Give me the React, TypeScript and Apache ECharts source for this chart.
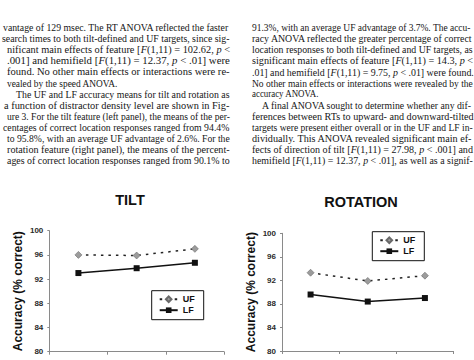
import React, { useEffect, useRef } from 'react';
import * as echarts from 'echarts';

// ---------- data ----------
const densityLevels = ['Low', 'Medium', 'High'];
const seriesNames = ['UF', 'LF'];
const tiltUF = [96.0, 95.9, 97.0];
const tiltLF = [93.0, 93.8, 94.7];
const rotationUF = [93.3, 91.9, 92.8];
const rotationLF = [89.6, 88.4, 89.0];
const panelTitles = ['TILT', 'ROTATION'];
const yAxisTitle = 'Accuracy (% correct)';
const yMin = 80;
const yMax = 100;
const yStep = 4;

// body text (italic segments marked with *)
const leftColumnText = [
  'vantage of 129 msec. The RT ANOVA reflected the faster',
  'search times to both tilt-defined and UF targets, since sig-',
  'nificant main effects of feature [*F*(1,11) = 102.62, *p* <',
  '.001] and hemifield [*F*(1,11) = 12.37, *p* < .01] were',
  'found. No other main effects or interactions were re-',
  'vealed by the speed ANOVA.',
  'The UF and LF accuracy means for tilt and rotation as',
  'a function of distractor density level are shown in Fig-',
  'ure 3. For the tilt feature (left panel), the means of the per-',
  'centages of correct location responses ranged from 94.4%',
  'to 95.8%, with an average UF advantage of 2.6%. For the',
  'rotation feature (right panel), the means of the percent-',
  'ages of correct location responses ranged from 90.1% to',
];
const rightColumnText = [
  '91.3%, with an average UF advantage of 3.7%. The accu-',
  'racy ANOVA reflected the greater percentage of correct',
  'location responses to both tilt-defined and UF targets, as',
  'significant main effects of feature [*F*(1,11) = 14.3, *p* <',
  '.01] and hemifield [*F*(1,11) = 9.75, *p* < .01] were found.',
  'No other main effects or interactions were revealed by the',
  'accuracy ANOVA.',
  'A final ANOVA sought to determine whether any dif-',
  'ferences between RTs to upward- and downward-tilted',
  'targets were present either overall or in the UF and LF in-',
  'dividually. This ANOVA revealed significant main ef-',
  'fects of direction of tilt [*F*(1,11) = 27.98, *p* < .001] and',
  'hemifield [*F*(1,11) = 12.37, *p* < .01], as well as a signif-',
];

// ---------- layout ----------
const leftStarts = [3, 2, 7, 7, 7, 7, 16, 4, 7, 3, 7, 7, 7];
const leftEnds = [230, 230, 230, 230, 230, 118, 230, 230, 230, 230, 230, 230, 230];
const rightStarts = [252, 252, 252, 252, 252, 252, 252, 262, 252, 252, 252, 252, 252];
const rightEnds = [471, 473, 473, 473, 474, 473, 319, 473, 474, 473, 473, 473, 473];
const LINE_TOP = 27.7;
const LINE_STEP = 11.1;
const BODY_FONT = "'Liberation Serif', 'Times New Roman', serif";
const BODY_SIZE = 10;
const SANS = "'Liberation Sans', Arial, sans-serif";

function segments(line: string) {
  return line
    .split('*')
    .map((t, i) => ({ t, it: i % 2 === 1 }))
    .filter((p) => p.t.length > 0);
}

function buildTextElements(lines: string[], starts: number[], ends: number[]) {
  const canvas = document.createElement('canvas');
  const ctx = canvas.getContext('2d') as CanvasRenderingContext2D;
  return lines.map((line, i) => {
    const segs = segments(line);
    let w = 0;
    segs.forEach((s) => {
      ctx.font = `${s.it ? 'italic ' : ''}${BODY_SIZE}px ${BODY_FONT}`;
      w += ctx.measureText(s.t).width;
    });
    const target = ends[i] - starts[i];
    const sx = w > 0 ? target / w : 1;
    const rich = segs.map((s) => `{${s.it ? 'i' : 'n'}|${s.t}}`).join('');
    return {
      type: 'text',
      x: starts[i],
      y: LINE_TOP + i * LINE_STEP,
      scaleX: sx,
      silent: true,
      style: {
        text: rich,
        fill: '#161616',
        fontFamily: BODY_FONT,
        fontSize: BODY_SIZE,
        align: 'left',
        verticalAlign: 'middle',
        rich: {
          n: { fontFamily: BODY_FONT, fontSize: BODY_SIZE, fill: '#161616' },
          i: { fontFamily: BODY_FONT, fontSize: BODY_SIZE, fontStyle: 'italic', fill: '#161616' },
        },
      },
    };
  });
}

export default function App() {
  const ref = useRef<HTMLDivElement>(null);

  useEffect(() => {
    if (!ref.current) return;
    const chart = echarts.init(ref.current, null, { renderer: 'svg' });

    const grids = [
      { left: 49.3, right: 250, top: 230.7, bottom: 8.3 },
      { left: 282, right: 20.5, top: 233.3, bottom: 9 },
    ];

    const xAxes = grids.map((_, gi) => ({
      type: 'category',
      gridIndex: gi,
      data: densityLevels,
      boundaryGap: true,
      axisLine: { show: true, lineStyle: { color: '#8a8a8a', width: 1 } },
      axisTick: { show: true, length: 3, lineStyle: { color: '#8a8a8a' } },
      axisLabel: { show: false },
      splitLine: { show: false },
    }));

    const yAxes = grids.map((_, gi) => ({
      type: 'value',
      gridIndex: gi,
      min: yMin,
      max: yMax,
      interval: yStep,
      axisLine: { show: true, lineStyle: { color: '#8a8a8a', width: 1 } },
      axisTick: { show: true, length: 2, lineStyle: { color: '#8a8a8a' } },
      splitLine: { show: false },
      axisLabel: { fontSize: 8, fontWeight: 'bold', color: '#2a2a2a', fontFamily: SANS, margin: 6 },
      name: yAxisTitle,
      nameLocation: 'middle',
      nameGap: 25,
      nameTextStyle: { fontSize: 12, fontWeight: 'bold', color: '#111', fontFamily: SANS },
    }));

    const ufStyle = (data: number[], gi: number) => ({
      name: seriesNames[0], type: 'line', xAxisIndex: gi, yAxisIndex: gi, data,
      symbol: 'diamond', symbolSize: 7,
      lineStyle: { color: '#222', width: 1.5, type: [2.5, 5] },
      itemStyle: { color: '#9c9c9c', borderColor: '#6a6a6a', borderWidth: 0.6 }, z: 3,
    });
    const lfStyle = (data: number[], gi: number) => ({
      name: seriesNames[1], type: 'line', xAxisIndex: gi, yAxisIndex: gi, data,
      symbol: 'rect', symbolSize: 6,
      lineStyle: { color: '#111', width: 1.5, type: 'solid' },
      itemStyle: { color: '#111' }, z: 3,
    });

    const legendBase = {
      orient: 'vertical', data: seriesNames, borderColor: '#111', borderWidth: 1,
      padding: [3, 9, 4, 7], itemWidth: 18, itemHeight: 7, itemGap: 0, selectedMode: false,
      textStyle: { fontSize: 9, fontWeight: 'bold', color: '#111', fontFamily: SANS, lineHeight: 11 },
    };

    const textEls = [
      ...buildTextElements(leftColumnText, leftStarts, leftEnds),
      ...buildTextElements(rightColumnText, rightStarts, rightEnds),
    ];

    const titleEls = [
      { x: 130, y: 200, text: panelTitles[0] },
      { x: 361, y: 201.7, text: panelTitles[1] },
    ].map((t) => ({
      type: 'text', x: t.x, y: t.y, silent: true,
      style: { text: t.text, fill: '#111', fontFamily: SANS, fontSize: 14.5, fontWeight: 'bold', align: 'center', verticalAlign: 'middle' },
    }));

    chart.setOption({
      animation: false,
      backgroundColor: '#ffffff',
      grid: grids,
      xAxis: xAxes,
      yAxis: yAxes,
      legend: [
        { ...legendBase, left: 151.7, top: 290.7 },
        { ...legendBase, left: 372.3, top: 231.7 },
      ],
      series: [ufStyle(tiltUF, 0), lfStyle(tiltLF, 0), ufStyle(rotationUF, 1), lfStyle(rotationLF, 1)],
      graphic: [...textEls, ...titleEls],
    });

    return () => chart.dispose();
  }, []);

  return <div ref={ref} style={{ position: 'absolute', left: 0, top: 0, width: 474, height: 360, background: '#fff' }} />;
}
